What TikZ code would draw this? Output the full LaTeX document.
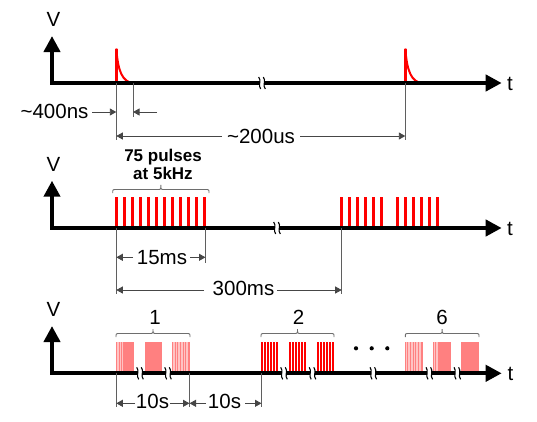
\documentclass[tikz,border=0pt]{standalone}
\usepackage{fontspec}
\setmainfont{Liberation Sans}
\usetikzlibrary{arrows.meta}
\definecolor{dimgray}{RGB}{70,70,70}
\definecolor{extgray}{RGB}{95,95,95}
\definecolor{bracegray}{RGB}{110,110,110}
\definecolor{salmon}{RGB}{255,128,128}
\definecolor{lightstripe}{RGB}{255,196,196}
\tikzset{
  lbl/.style={font=\fontsize{20.5}{24}\selectfont, inner sep=0pt},
  blbl/.style={font=\fontsize{17}{19}\bfseries\selectfont, inner sep=0pt, align=center},
  axisline/.style={line width=4pt, line join=miter, {Triangle[length=16pt,width=16pt]}-{Triangle[length=16pt,width=16pt]}},
  ext/.style={draw=extgray, line width=0.9pt},
  dimline/.style={draw=dimgray, line width=0.9pt},
  dimarr/.style={dimline, -{Triangle[length=6.5pt,width=7pt]}},
  bracestyle/.style={draw=bracegray, line width=0.9pt},
  redpulse/.style={red, line width=2.6pt},
  brk/.pic={
    \fill[white] (-2.3,-4) rectangle (2.3,4);
    \draw[line width=1.1pt] (-3.3,-6) .. controls (-0.3,-3) and (-4.3,3) .. (-1.3,6);
    \draw[line width=1.1pt] (1.3,-6) .. controls (4.3,-3) and (0.3,3) .. (3.3,6);
  }
}
\newcommand\gbrace[3]{%
  \pgfmathsetmacro\xm{(#1+#2)/2}%
  \draw[bracestyle] (#1,#3+3.5) .. controls (#1,#3) .. (#1+3.5,#3) -- (\xm-3.5,#3)
    .. controls (\xm,#3) .. (\xm,#3-4.5) .. controls (\xm,#3) .. (\xm+3.5,#3)
    -- (#2-3.5,#3) .. controls (#2,#3) .. (#2,#3+3.5);}
\newcommand\sblock[1]{\fill[salmon] (#1,342) rectangle (#1+17.5,373);}
\newcommand\rblock[1]{\foreach \k in {0,...,11}{\fill[red] (#1+\k*1.45,342) rectangle ++(0.75,31);}}
\begin{document}
\begin{tikzpicture}[x=1pt,y=-1pt]
\useasboundingbox (0,0) rectangle (537,421);

% ================= panel 1 =================
\coordinate (p1) at (116.3,83);
\coordinate (p1e) at (133,83);
\coordinate (p2) at (405.3,83);
\coordinate (p1b) at (116.3,140);
\coordinate (p1eb) at (133,117);
\coordinate (p2b) at (405.3,140);
\draw[redpulse] (p1) -- (116.3,48.5);
\draw[red, line width=2pt] (116.3,48.5) .. controls (118,71) and (122,82) .. (134,83.5);
\draw[redpulse] (p2) -- (405.3,48.5);
\draw[red, line width=2pt] (405.3,48.5) .. controls (407,71) and (411,82) .. (423,83.5);
\draw[axisline] (52,36) -- (52,83) -- (501.7,83);
\pic at (262,83) {brk};
\node[lbl, anchor=base] (v1) at (53.5,26) {V};
\node[lbl, anchor=base] (t1) at (510,90) {t};
\draw[ext] (p1) -- (p1b);
\draw[ext] (p1e) -- (p1eb);
\draw[ext] (p2) -- (p2b);
\node[lbl, anchor=base] (n400) at (54.5,118) {\textasciitilde400ns};
\coordinate (a400l) at (92,112);
\coordinate (a400r) at (157,112);
\draw[dimarr] (a400l) -- (p1 |- a400l);
\draw[dimarr] (a400r) -- (p1e |- a400r);
\node[lbl, anchor=base] (n200) at (261,143) {\textasciitilde200us};
\coordinate (a200l) at (222,136);
\coordinate (a200r) at (300,136);
\draw[dimarr] (a200l) -- (p1 |- a200l);
\draw[dimarr] (a200r) -- (p2 |- a200r);

% ================= panel 2 =================
\foreach \x in {115,123,...,203} \fill[red] (\x,196.7) rectangle ++(3.4,31.3);
\foreach \x in {340,348,...,380} \fill[red] (\x,196.7) rectangle ++(3.4,31.3);
\foreach \x in {396,404,...,436} \fill[red] (\x,196.7) rectangle ++(3.4,31.3);
\draw[axisline] (52,180.7) -- (52,228) -- (501.7,228);
\pic at (277,228) {brk};
\node[lbl, anchor=base] (v2) at (53.5,171) {V};
\node[lbl, anchor=base] (t2) at (510,235) {t};
\gbrace{112.7}{209}{189.5}
\node[blbl, anchor=base] (n75) at (163,161.7) {75 pulses};
\node[blbl, anchor=base] (n5k) at (163,179) {at 5kHz};
\coordinate (q1) at (116.3,228);
\coordinate (q2) at (205.5,228);
\coordinate (q3) at (341.7,228);
\coordinate (q1b) at (116.3,294);
\coordinate (q2b) at (205.5,263);
\coordinate (q3b) at (341.7,294);
\draw[ext] (q1) -- (q1b);
\draw[ext] (q2) -- (q2b);
\draw[ext] (q3) -- (q3b);
\node[lbl, anchor=base] (n15) at (162,264) {15ms};
\coordinate (a15l) at (133,257.3);
\coordinate (a15r) at (190,257.3);
\draw[dimarr] (a15l) -- (q1 |- a15l);
\draw[dimarr] (a15r) -- (q2 |- a15r);
\node[lbl, anchor=base] (n300) at (243.5,295.5) {300ms};
\coordinate (a300l) at (204,290);
\coordinate (a300r) at (277,290);
\draw[dimarr] (a300l) -- (q1 |- a300l);
\draw[dimarr] (a300r) -- (q3 |- a300r);

% ================= panel 3 =================
% group 1
\sblock{116}
\foreach \s in {1,2.6,4.4,6.6} \draw[lightstripe, line width=0.5pt] (116+\s,342) -- (116+\s,373);
\sblock{144.5}
\sblock{172}
\foreach \s in {1,2.6,...,17} \draw[lightstripe, line width=0.5pt] (172+\s,342) -- (172+\s,373);
% group 2
\rblock{261}
\rblock{289}
\rblock{317}
% group 6
\sblock{405.3}
\foreach \s in {1,2.6,...,17} \draw[lightstripe, line width=0.5pt] (405.3+\s,342) -- (405.3+\s,373);
\sblock{433.3}
\foreach \s in {1,2.6,4.4} \draw[lightstripe, line width=0.5pt] (433.3+\s,342) -- (433.3+\s,373);
\sblock{461.3}
\draw[axisline] (52,326) -- (52,373.3) -- (501.7,373.3);
\foreach \b in {140,168,284,312.5,373.3,429.3,457.3} \pic at (\b,373.3) {brk};
\node[lbl, anchor=base] (v3) at (53.5,316) {V};
\node[lbl, anchor=base] (t3) at (510.5,380.5) {t};
\gbrace{116}{190}{333.5}
\gbrace{261}{334}{333.5}
\gbrace{405.3}{479}{333.5}
\node[lbl, anchor=base] (g1) at (155,324) {1};
\node[lbl, anchor=base] (g2) at (298.5,324) {2};
\node[lbl, anchor=base] (g6) at (442,324) {6};
\fill (356,348.3) circle (2.1);
\fill (371.7,348.3) circle (2.1);
\fill (387.3,348.3) circle (2.1);
\coordinate (r1) at (116.3,373.3);
\coordinate (r2) at (189.5,373.3);
\coordinate (r3) at (261.5,373.3);
\coordinate (r1b) at (116.3,407);
\coordinate (r2b) at (189.5,407);
\coordinate (r3b) at (261.5,407);
\draw[ext] (r1) -- (r1b);
\draw[ext] (r2) -- (r2b);
\draw[ext] (r3) -- (r3b);
\node[lbl, anchor=base] (s1) at (152.5,408.5) {10s};
\node[lbl, anchor=base] (s2) at (224.5,408.5) {10s};
\coordinate (b1l) at (135,403.3);
\coordinate (b1r) at (170,403.3);
\coordinate (b2l) at (206,403.3);
\coordinate (b2r) at (245,403.3);
\draw[dimarr] (b1l) -- (r1 |- b1l);
\draw[dimarr] (b1r) -- (r2 |- b1r);
\draw[dimarr] (b2l) -- (r2 |- b2l);
\draw[dimarr] (b2r) -- (r3 |- b2r);
\end{tikzpicture}
\end{document}
